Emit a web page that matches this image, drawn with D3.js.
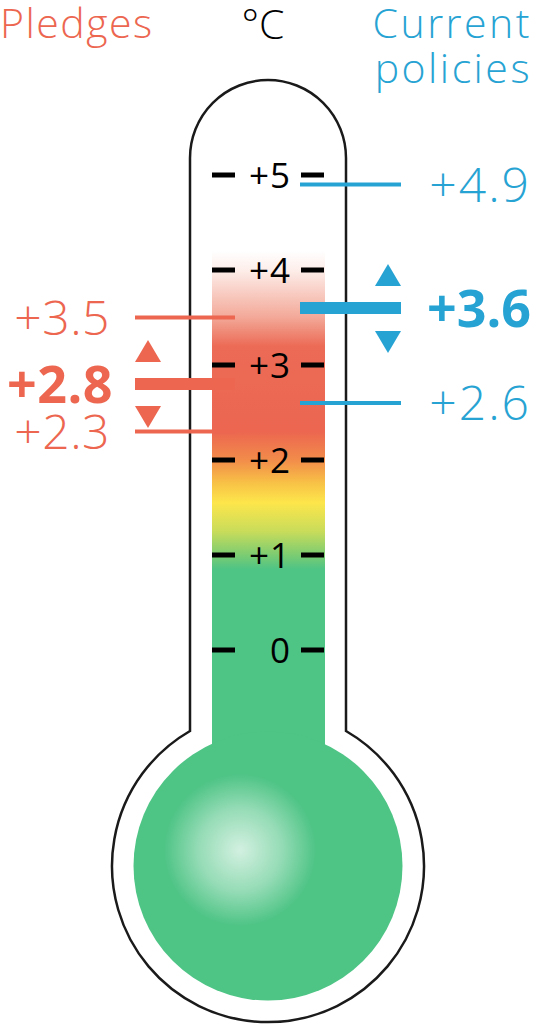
<!DOCTYPE html>
<html>
<head>
<meta charset="utf-8">
<script src="https://cdn.jsdelivr.net/npm/d3@7"></script>
<style>
  body { margin: 0; background: #fff; }
  text { font-family: "Open Sans", sans-serif; }
</style>
</head>
<body>
<script>
// temperature scale ticks
var ticks = [0, 1, 2, 3, 4, 5];
var tickLabels = ["0", "+1", "+2", "+3", "+4", "+5"];

// pledges: low / central / high
var pledgeValues = [2.3, 2.8, 3.5];
var pledgeLabels = ["+2.3", "+2.8", "+3.5"];
var pledgeCentral = 2.8;

// current policies: low / central / high
var policyValues = [2.6, 3.6, 4.9];
var policyLabels = ["+2.6", "+3.6", "+4.9"];
var policyCentral = 3.6;

var red = "#ec6650", blue = "#27a3d3", green = "#4ec485";

function graficar() {
    var w = 542, h = 1024;
    var svg = d3.select("body").append("svg")
        .attr("width", w)
        .attr("height", h);

    var y = d3.scaleLinear().domain([0, 5]).range([650, 175]);

    var cx = 268;
    var defs = svg.append("defs");

    // column gradient, stops set by temperature
    var stops = [
        [4.2, "#ffffff", 1], [4.0, "#fdeeea", 1], [3.5, "#f3a898", 1],
        [3.2, "#ec6b56", 1], [2.3, red, 1], [2.0, "#f28c4a", 1],
        [1.75, "#f8c346", 1], [1.55, "#fde64b", 1], [1.25, "#c9dc5a", 1],
        [1.0, "#7ccc72", 1], [0.85, green, 1]
    ];
    var grad = defs.append("linearGradient")
        .attr("id", "col")
        .attr("gradientUnits", "userSpaceOnUse")
        .attr("x1", 0).attr("x2", 0)
        .attr("y1", y(4.2)).attr("y2", y(0.85));
    grad.selectAll("stop").data(stops).enter().append("stop")
        .attr("offset", function (d) { return (y(d[0]) - y(4.2)) / (y(0.85) - y(4.2)); })
        .attr("stop-color", function (d) { return d[1]; });

    var hl = defs.append("radialGradient").attr("id", "hl");
    hl.append("stop").attr("offset", 0).attr("stop-color", "#fff").attr("stop-opacity", 0.75);
    hl.append("stop").attr("offset", 0.55).attr("stop-color", "#fff").attr("stop-opacity", 0.4);
    hl.append("stop").attr("offset", 1).attr("stop-color", "#fff").attr("stop-opacity", 0);

    // outline
    svg.append("path")
        .attr("d", "M190,731 L190,158 A78,78 0 0 1 346,158 L346,731 A156,156 0 1 1 190,731 Z")
        .attr("fill", "#fff")
        .attr("stroke", "#1a1a1a")
        .attr("stroke-width", 2.5);

    // liquid
    svg.append("rect")
        .attr("x", 212).attr("width", 113)
        .attr("y", y(4.2)).attr("height", 760 - y(4.2))
        .attr("fill", "url(#col)");
    svg.append("circle")
        .attr("cx", cx).attr("cy", 866).attr("r", 134.5)
        .attr("fill", green);
    svg.append("circle")
        .attr("cx", 240).attr("cy", 850).attr("r", 76)
        .attr("fill", "url(#hl)");

    // ticks
    var tk = svg.selectAll(".tick").data(ticks).enter().append("g").attr("class", "tick");
    tk.append("line")
        .attr("x1", 212).attr("x2", 235)
        .attr("y1", function (d) { return y(d); }).attr("y2", function (d) { return y(d); })
        .attr("stroke", "#000").attr("stroke-width", 5);
    tk.append("line")
        .attr("x1", 301).attr("x2", 324)
        .attr("y1", function (d) { return y(d); }).attr("y2", function (d) { return y(d); })
        .attr("stroke", "#000").attr("stroke-width", 5);
    tk.append("text")
        .attr("x", 291)
        .attr("y", function (d) { return y(d); })
        .attr("dy", "0.36em")
        .attr("text-anchor", "end")
        .attr("font-size", 35)
        .attr("font-weight", 400)
        .attr("letter-spacing", 1)
        .text(function (d, i) { return tickLabels[i]; });

    // pledges
    svg.selectAll(".pl").data(pledgeValues).enter().append("line")
        .attr("x1", 135).attr("x2", 235)
        .attr("y1", function (d) { return y(d); }).attr("y2", function (d) { return y(d); })
        .attr("stroke", red)
        .attr("stroke-width", function (d) { return d === pledgeCentral ? 12 : 4; });
    svg.selectAll(".plt").data(pledgeValues).enter().append("text")
        .attr("x", function (d) { return d === pledgeCentral ? 113 : 110; })
        .attr("y", function (d) { return y(d); })
        .attr("dy", "0.36em")
        .attr("text-anchor", "end")
        .attr("fill", red)
        .attr("font-size", function (d) { return d === pledgeCentral ? 52 : 48; })
        .attr("font-weight", function (d) { return d === pledgeCentral ? 700 : 300; })
        .attr("letter-spacing", 0.5)
        .text(function (d, i) { return pledgeLabels[i]; });

    // current policies
    svg.selectAll(".po").data(policyValues).enter().append("line")
        .attr("x1", 300).attr("x2", 401)
        .attr("y1", function (d) { return y(d); }).attr("y2", function (d) { return y(d); })
        .attr("stroke", blue)
        .attr("stroke-width", function (d) { return d === policyCentral ? 12 : 4; });
    svg.selectAll(".pot").data(policyValues).enter().append("text")
        .attr("x", 531)
        .attr("y", function (d) { return y(d); })
        .attr("dy", "0.36em")
        .attr("text-anchor", "end")
        .attr("fill", blue)
        .attr("font-size", function (d) { return d === policyCentral ? 52 : 48; })
        .attr("font-weight", function (d) { return d === policyCentral ? 700 : 300; })
        .attr("letter-spacing", function (d) { return d === policyCentral ? 0 : 2; })
        .text(function (d, i) { return policyLabels[i]; });

    // arrows around central values
    function tri(x, yc, up, col) {
        var p = up
            ? [[x - 13, yc + 11], [x + 13, yc + 11], [x, yc - 11]]
            : [[x - 13, yc - 11], [x + 13, yc - 11], [x, yc + 11]];
        svg.append("path").attr("d", d3.line()(p) + "Z").attr("fill", col);
    }
    tri(148, y(pledgeCentral) - 33, true, red);
    tri(148, y(pledgeCentral) + 33, false, red);
    tri(388, y(policyCentral) - 33, true, blue);
    tri(388, y(policyCentral) + 34, false, blue);

    // titles
    svg.append("text").attr("x", 0).attr("y", 38)
        .attr("font-size", 41).attr("font-weight", 300).attr("fill", red)
        .attr("letter-spacing", 1.5)
        .text("Pledges");
    svg.append("text").attr("x", 263).attr("y", 39)
        .attr("text-anchor", "middle")
        .attr("font-size", 41).attr("font-weight", 300).attr("fill", "#000")
        .text("°C");
    svg.append("text").attr("x", 532).attr("y", 38)
        .attr("text-anchor", "end")
        .attr("font-size", 41).attr("font-weight", 300).attr("fill", blue)
        .attr("letter-spacing", 2.5)
        .text("Current");
    svg.append("text").attr("x", 532).attr("y", 83)
        .attr("text-anchor", "end")
        .attr("font-size", 41).attr("font-weight", 300).attr("fill", blue)
        .attr("letter-spacing", 2.5)
        .text("policies");
}

graficar();
</script>
</body>
</html>
